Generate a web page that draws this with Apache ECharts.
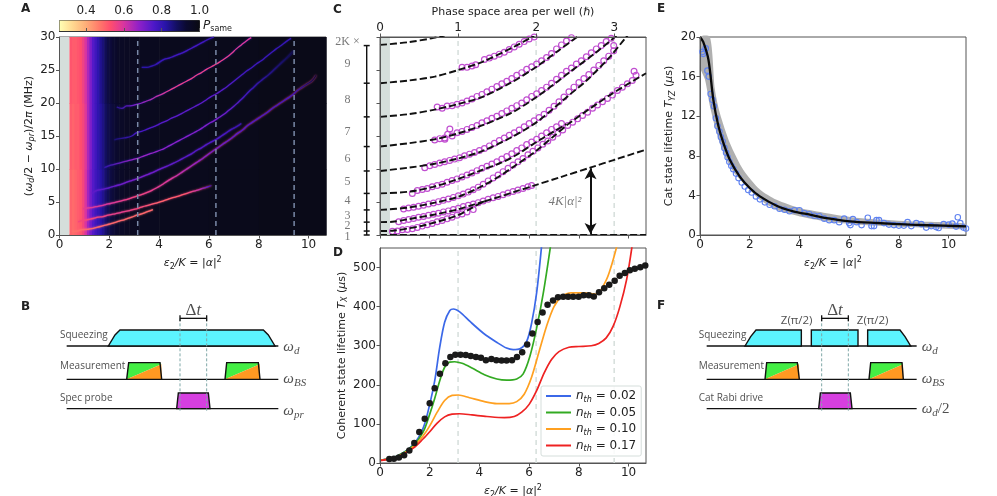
<!DOCTYPE html>
<html><head><meta charset="utf-8">
<style>html,body{margin:0;padding:0;background:#fff}#c{width:997px;height:496px}</style>
<script src="https://cdn.jsdelivr.net/npm/echarts@6/dist/echarts.min.js"></script>
</head><body><div id="c"></div>
<script>
// ---------- Data ----------
const piLines = [3.14, 6.28, 9.42];
const epsTicks = [0, 2, 4, 6, 8, 10];
const areaTicks = [0, 1, 2, 3];
const colorTicks = [0.4, 0.6, 0.8, 1.0];
const txTicks = [0, 100, 200, 300, 400, 500];
const cmapStops = [[.26,'#ffffb4'],[.33,'#ffd890'],[.40,'#fdae78'],[.47,'#ff7a6a'],[.53,'#ff4d6e'],[.60,'#d835a0'],[.68,'#8f20c8'],[.76,'#4c18c8'],[.82,'#2814a8'],[.88,'#130f60'],[.93,'#0b0a30'],[1.0,'#0a0a12']];

const heatEdges = [.4,.5,.6,.7,.8,.9,1.0,1.1,1.2,1.3,1.4,1.5,1.6,1.7,1.8,1.9,2.0,2.1,2.2,2.3,2.4,2.6,2.8,3.2,4,6,8,10.7];
const heatLow  = [.50,.49,.50,.51,.52,.55,.60,.66,.71,.75,.78,.80,.82,.84,.87,.89,.91,.92,.93,.94,.95,.96,.965,.97,.975,.98,.985];
const heatMid  = [.51,.50,.51,.51,.53,.55,.59,.65,.70,.75,.78,.81,.83,.85,.88,.90,.91,.92,.93,.94,.95,.96,.965,.97,.975,.98,.985];
const heatHigh = [.52,.51,.51,.52,.53,.56,.60,.65,.70,.75,.78,.81,.84,.86,.89,.91,.92,.93,.94,.95,.955,.96,.965,.97,.975,.98,.985];
const heatBands = [[0,10],[10,20],[20,30]];

const level0 = [[0,0],[10.7,0]];
const level1 = [[0,.6],[.5,.65],[1.14,1.0],[1.7,1.4],[2.2,1.9],[2.7,2.45],[3.15,3.03],[3.7,4.1],[4.1,4.95],[4.6,5.55],[5.43,6.56],[6.16,7.44],[7.3,8.82],[8.45,10.2],[9.5,11.48],[10.7,12.93]];
const level2 = [[0,1.95],[.5,2.0],[1.14,2.4],[2.2,3.1],[3.15,3.9],[3.8,4.65],[4.3,5.2]];
const level3 = [[0,3.8],[1.14,4.15],[2.2,4.9],[3.15,5.8],[4.1,7.4],[4.8,8.9],[5.43,10.5],[6.3,12.8],[7,15.0],[7.64,17.0],[9.25,21.2],[10.7,24.5]];
const level4 = [[0,6.3],[1.14,6.55],[2.14,7.3],[3.15,8.5],[4.1,9.85],[4.9,11.0],[5.43,12.0],[6.3,14.1],[7,15.7],[7.5,16.8]];
const level5 = [[0,9.7],[1.14,10.2],[2.2,10.8],[3.15,11.6],[4.1,12.7],[5.23,14.7],[6.3,17.1],[7.64,21.3],[8.31,23.4],[9.25,27],[9.86,29.8],[10,30.4]];
const level6 = [[0,13.4],[1.14,13.9],[2.2,14.5],[3.15,15.4],[4.1,16.6],[5.23,18.4],[6.3,20.9],[7.64,24.7],[8.6,27.4],[9.45,30],[9.6,30.5]];
const level7 = [[0,17.9],[1.14,18.3],[2.2,19],[3.15,19.85],[4.1,20.9],[5.23,23],[6.3,25.5],[7.2,28],[8,30.2]];
const level8 = [[0,23],[1.14,23.4],[2.2,24],[3.15,25],[4.1,26.2],[5.43,28.6],[6.2,30.2]];
const level9 = [[0,28.8],[1.13,29.2],[2.08,29.8],[2.6,30.2]];
const rulerTicks = [0,.6,1.95,3.8,6.3,9.7,13.4,17.9,23,28.7];
const rulerLabels = [['1',-.25],['2',1.36],['3',2.85],['4',5.1],['5',8.05],['6',11.5],['7',15.6],['8',20.5],['9',26]];

const peaks1 = [[.5,.55],[.7,.6],[.9,.8],[1.1,.85],[1.3,.95],[1.5,1.15],[1.7,1.35],[1.9,1.55],[2.1,1.75],[2.3,2.0],[2.5,2.2],[2.7,2.45],[2.9,2.7],[3.1,3.0],[3.3,3.2],[3.5,3.5],[3.75,3.85]];
const peaks2 = [[.75,2.0],[.95,2.2],[1.15,2.35],[1.35,2.5],[1.55,2.7],[1.75,2.8],[1.95,3.0],[2.15,3.15],[2.35,3.3],[2.55,3.5],[2.75,3.65],[2.95,3.85],[3.15,4.05],[3.35,4.3],[3.55,4.5],[3.75,4.7],[3.95,4.9],[4.15,5.15],[4.35,5.4],[4.55,5.65],[4.75,5.85],[4.95,6.1],[5.15,6.35],[5.35,6.6],[5.55,6.8],[5.75,7.05],[5.95,7.3],[6.1,7.5]];
const peaks3 = [[.95,3.95],[1.15,4.1],[1.35,4.2],[1.55,4.35],[1.75,4.5],[1.95,4.7],[2.15,4.85],[2.35,5.05],[2.55,5.25],[2.75,5.45],[2.95,5.7],[3.15,5.95],[3.35,6.2],[3.55,6.5],[3.75,6.85],[3.95,7.25],[4.15,7.7],[4.35,8.2],[4.55,8.65],[4.75,9.1],[4.95,9.6],[5.15,10.1],[5.35,10.6],[5.55,11.1],[5.75,11.6],[5.95,12.15],[6.15,12.7],[6.35,13.2],[6.55,13.75],[6.75,14.25],[6.95,14.8],[7.15,15.4],[7.35,15.9],[7.55,16.6],[7.75,17.1],[7.95,17.6],[8.15,18.1],[8.35,18.6],[8.55,19.2],[8.75,19.7],[8.95,20.2],[9.15,20.7],[9.35,21.2],[9.55,21.9],[9.75,22.4],[9.95,22.9],[10.15,23.4],[10.3,24.2]];
const peaks3Extra = [[10.22,24.8]];
const peaks4 = [[1.3,6.3],[1.5,6.75],[1.7,6.9],[1.9,7.05],[2.1,7.3],[2.3,7.5],[2.5,7.7],[2.7,8.0],[2.9,8.25],[3.1,8.5],[3.3,8.8],[3.5,9.1],[3.7,9.4],[3.9,9.75],[4.1,10.1],[4.3,10.4],[4.5,10.75],[4.7,11.1],[4.9,11.5],[5.1,11.9],[5.3,12.3],[5.5,12.8],[5.7,13.2],[5.9,13.7],[6.1,14.1],[6.3,14.5],[6.5,15],[6.7,15.5],[6.9,16],[7.1,16.4],[7.3,16.9]];
const peaks5 = [[1.8,10.2],[2.0,10.5],[2.2,10.7],[2.4,10.9],[2.6,11.1],[2.8,11.3],[3.0,11.5],[3.2,11.7],[3.4,12],[3.6,12.25],[3.8,12.5],[4.0,12.8],[4.2,13.1],[4.4,13.5],[4.6,13.9],[4.8,14.3],[5.0,14.7],[5.2,15.1],[5.4,15.5],[5.6,15.9],[5.8,16.4],[6.0,16.9],[6.2,17.3],[6.4,17.8],[6.6,18.3],[6.8,18.9],[7.0,19.5],[7.2,20.2],[7.4,20.9],[7.6,21.7],[7.8,22.4],[8.0,23.1],[8.2,23.7],[8.4,24.3],[8.6,25],[8.8,25.7],[9.0,26.4],[9.2,27.1],[9.4,27.9]];
const peaks5Extra = [[9.4,28.7]];
const peaks6 = [[2.2,14.4],[2.4,14.6],[2.6,14.7],[2.9,15.0],[3.1,15.5],[3.3,15.7],[3.5,16.0],[3.7,16.3],[3.9,16.6],[4.1,17],[4.3,17.3],[4.5,17.7],[4.7,18],[4.9,18.4],[5.1,18.8],[5.3,19.2],[5.5,19.6],[5.7,20],[5.9,20.5],[6.1,21],[6.3,21.4],[6.5,21.9],[6.7,22.4],[6.9,23],[7.1,23.6],[7.3,24.2],[7.5,24.8],[7.7,25.3],[7.9,25.9],[8.1,26.4],[8.3,27],[8.5,27.6],[8.7,28.2],[8.9,28.7],[9.1,29.3],[9.3,29.8]];
const peaks6Extra = [[2.61,14.5],[2.72,15.25],[2.81,16.05]];
const peaks7 = [[2.3,19.4],[2.5,19.2],[2.7,19.55],[2.9,19.6],[3.1,19.8],[3.3,20],[3.5,20.3],[3.7,20.6],[3.9,21],[4.1,21.3],[4.3,21.7],[4.5,22.1],[4.7,22.5],[4.9,22.9],[5.1,23.3],[5.3,23.7],[5.5,24.2],[5.7,24.6],[5.9,25.1],[6.1,25.5],[6.3,25.9],[6.5,26.4],[6.7,26.9],[6.9,27.5],[7.1,28.2],[7.3,28.8],[7.5,29.4],[7.7,29.9]];
const peaks8 = [[3.3,25.4],[3.5,25.4],[3.7,25.6],[3.85,25.8],[4.2,26.6],[4.4,26.8],[4.6,27.1],[4.8,27.4],[5.0,27.7],[5.2,28.1],[5.4,28.5],[5.6,28.9],[5.8,29.3],[6.0,29.7],[6.2,30]];

const ridgeP1 = [[.5,.48],[1.5,.5],[2.5,.5],[3.75,.5]];
const ridgeP2 = [[.75,.55],[1.5,.55],[2.5,.58],[3.15,.55],[4,.5],[5,.52],[5.5,.62],[5.9,.76],[6.1,.86]];
const ridgeP3 = [[.95,.58],[2,.6],[3.15,.55],[4.5,.6],[5.5,.68],[6.3,.72],[7.5,.76],[9.3,.78],[10.3,.95]];
const ridgeP4 = [[1.3,.74],[2,.74],[3.15,.7],[4.5,.74],[6.3,.76],[7.3,.8]];
const ridgeP5 = [[1.8,.82],[3.15,.66],[4.5,.68],[6.3,.7],[7.5,.78],[9,.88],[9.4,.92]];
const ridgeP6 = [[2.2,.87],[3.15,.77],[4.5,.74],[6.3,.74],[7.5,.78],[9.3,.8]];
const ridgeP7 = [[2.3,.84],[3.15,.7],[4.5,.57],[6.3,.56],[7.7,.6]];
const ridgeP8 = [[3.3,.82],[4.5,.78],[5.5,.77],[6.2,.8]];

const dotsTx = [[.375,10],[.56,11],[.76,14],[.97,20],[1.18,32],[1.38,51],[1.58,79],[1.8,113],[2.0,153],[2.2,191],[2.41,228],[2.63,255],[2.83,271],[3.03,277],[3.24,277],[3.45,276],[3.65,274],[3.86,271],[4.06,269],[4.26,263],[4.48,266],[4.68,263],[4.89,262],[5.09,262],[5.31,263],[5.51,271],[5.72,283],[5.92,303],[6.13,331],[6.34,361],[6.54,385],[6.74,405],[6.96,416],[7.16,424],[7.37,425],[7.57,425],[7.77,425],[7.99,425],[8.19,429],[8.4,429],[8.6,426],[8.81,437],[9.02,447],[9.22,456],[9.44,466],[9.64,479],[9.85,486],[10.05,493],[10.25,497],[10.47,501],[10.67,505]];
const nth02 = [[0,7],[.67,17],[1.34,47],[1.74,90],[2.0,150],[2.2,210],[2.4,295],[2.6,360],[2.81,390],[2.95,394],[3.22,386],[3.62,362],[4.16,332],[4.69,309],[5.09,294],[5.36,290],[5.63,292],[5.9,311],[6.1,358],[6.3,435],[6.5,555]];
const nth05 = [[0,7],[.67,17],[1.34,45],[1.74,80],[2.0,125],[2.2,165],[2.4,210],[2.6,245],[2.8,258],[3.0,259],[3.3,255],[3.7,243],[4.2,226],[4.7,215],[5.1,212],[5.5,215],[5.76,228],[6.03,273],[6.3,345],[6.57,435],[6.86,555]];
const nth10 = [[0,7],[.67,16],[1.34,42],[1.74,70],[2.0,95],[2.3,130],[2.6,160],[2.9,173],[3.15,174],[3.6,167],[4.2,157],[4.7,152],[5.2,152],[5.5,157],[5.8,176],[6.1,220],[6.4,285],[6.7,350],[7,400],[7.3,425],[7.7,435],[8.2,435],[8.7,432],[9.1,468],[9.3,503],[9.53,555]];
const nth17 = [[0,6],[.67,15],[1.34,38],[1.74,62],[2.0,80],[2.3,102],[2.6,118],[2.9,125],[3.2,126],[3.7,123],[4.3,119],[5,116],[5.4,119],[5.7,130],[6,150],[6.3,185],[6.6,230],[6.9,265],[7.2,285],[7.6,296],[8,298],[8.5,300],[8.8,306],[9.1,320],[9.38,350],[9.65,400],[9.92,469],[10.14,555]];

const tyzFit = [[0,20],[.13,19.5],[.34,17.7],[.54,13.6],[.74,11],[.94,9.3],[1.2,7.6],[1.6,5.9],[2.0,4.75],[2.41,3.9],[3.08,2.96],[3.75,2.39],[4.42,2.05],[5.09,1.71],[6.03,1.38],[7.1,1.21],[8.45,1.04],[9.79,.94],[10.7,.87]];
const tyzUpper = [[.4,20],[.6,14.7],[.8,12.3],[1.2,9.3],[1.74,6.6],[2.41,4.6],[3.08,3.56],[4.02,2.72],[5.09,2.2],[6.4,1.71],[8.45,1.38],[10.7,1.14]];
const tyzLower = [[0,20],[0,17],[.2,15.7],[.4,13],[.67,10.3],[.94,8.3],[1.34,6.4],[1.88,4.9],[2.41,3.56],[3.08,2.55],[4.02,1.88],[5.09,1.38],[6.4,1.04],[8.45,.8],[10.7,.6]];
const tyzPoints = [[.1,18.5],[.13,18.3],[.23,18.85],[.3,16.6],[.35,16],[.43,14.25],[.5,13.65],[.56,13],[.64,11.8],[.7,11],[.78,10.45],[.84,9.9],[.91,9.45],[.98,8.8],[1.05,8.3],[1.11,7.85],[1.18,7.4],[1.26,7],[1.34,6.65],[1.45,6.2],[1.55,5.75],[1.68,5.3],[1.8,4.9],[1.94,4.55],[2.08,4.3],[2.25,3.9],[2.41,3.6],[2.61,3.3],[2.8,3.05],[3.0,2.9],[3.2,2.65],[3.4,2.55],[3.6,2.4],[3.8,2.5],[4,2.5],[4.2,2.2],[4.4,2.1],[4.6,1.95],[4.8,1.9],[5,1.65],[5.2,1.5],[5.4,1.5],[5.6,1.3],[5.8,1.65],[6,1.2],[6.05,1],[6.15,1.6],[6.3,1.3],[6.5,1],[6.75,1.75],[6.9,.9],[7,.9],[7.1,1.5],[7.2,1.5],[7.4,1.2],[7.6,1.05],[7.8,1],[8,.95],[8.2,.95],[8.35,1.3],[8.5,.9],[8.7,1.2],[8.9,1.1],[9.1,.75],[9.3,.9],[9.5,.8],[9.6,.7],[9.8,1.1],[10,1.05],[10.15,1.15],[10.3,.85],[10.37,1.8],[10.47,1.2],[10.6,.75],[10.7,.65]];

// Pulse-sequence schematics (B, F), in schematic units
const CYAN='#5cf4ff', GREEN='#44ee44', ORANGE='#ff9922', MAG='#d63fe0';
const seqBBaselines = [[200,835,168],[200,835,268],[200,835,356]];
const seqBPulses = [[[325,168],[345,135],[360,120],[790,120],[805,135],[825,168]]];
const seqBMeas = [[380,386,480,485],[675,680,775,780]];
const seqBProbe = [[530,356],[535,309],[625,309],[630,356]];
const seqBGuides = [540,620];
const seqBText = [['Squeezing',180,135],['Measurement',180,228],['Spec probe',180,325]];
const seqBFreq = [['{w|ω}{ws|d}',850,172],['{w|ω}{ws|BS}',850,268],['{w|ω}{ws|pr}',850,362]];
const seqFBaselines = [[140,770,168],[140,770,268],[140,770,356]];
const seqFPulses = [[[255,168],[272,140],[288,120],[424,120],[424,168]],[[454,168],[454,120],[594,120],[594,168]],[[623,168],[623,120],[720,120],[735,140],[752,168]]];
const seqFMeas = [[315,320,412,418],[627,632,726,730]];
const seqFProbe = [[476,356],[481,309],[571,309],[576,356]];
const seqFGuides = [485,565];
const seqFText = [['Squeezing',116,135],['Measurement',116,228],['Cat Rabi drive',116,325]];
const seqFFreq = [['{w|ω}{ws|d}',785,172],['{w|ω}{ws|BS}',785,268],['{w|ω}{ws|d}{g|/2}',785,358]];

// ---------- Helpers ----------
const FF='DejaVu Sans', SERIF='Liberation Serif', TXT='#222', SPINE='#555', PALE='#d5dedb';
function hex(c){return [1,3,5].map(i=>parseInt(c.substr(i,2),16));}
function cmap(p){
  for(let i=1;i<cmapStops.length;i++){
    if(p<=cmapStops[i][0]){
      const a=cmapStops[i-1],b=cmapStops[i],t=Math.max(0,(p-a[0])/(b[0]-a[0]));
      const A=hex(a[1]),B=hex(b[1]);
      return 'rgb('+A.map((v,k)=>Math.round(v+(B[k]-v)*t)).join(',')+')';
    }
  }
  return cmapStops[cmapStops.length-1][1];
}
const mt={fontFamily:FF,fontSize:11,fontWeight:'normal',lineHeight:15,color:TXT};
const subt={fontFamily:FF,fontSize:8,fontWeight:'normal',color:TXT,verticalAlign:'bottom'};
const rich={
  i:{...mt,fontStyle:'italic'},n:{...mt},
  s:{...subt},
  is:{...subt,fontStyle:'italic'},
  u:{fontFamily:FF,fontSize:8,color:TXT,verticalAlign:'top'}
};
const epsName='{i|ε}{s|2}{i|/K} = |{i|α}|{u|2}';
const tickFont={fontFamily:FF,fontSize:12,color:TXT};
const nameFont={fontFamily:FF,fontSize:11,color:TXT};
function vAxisCommon(extra){return Object.assign({type:'value',z:6,splitLine:{show:false},
  axisLine:{show:true,onZero:false,lineStyle:{color:SPINE,width:1}},
  axisTick:{show:true,length:3.5,lineStyle:{color:SPINE}},
  axisLabel:Object.assign({margin:4},tickFont)},extra);}
function epsAxis(grid,showLabel,name){
  return vAxisCommon({gridIndex:grid,min:0,max:10.7,position:'bottom',
    axisTick:{show:true,length:3.5,customValues:epsTicks,lineStyle:{color:SPINE}},
    axisLabel:Object.assign({show:showLabel,margin:4,customValues:epsTicks},tickFont),
    name:name||'',nameLocation:'middle',nameGap:21,nameTextStyle:Object.assign({rich},nameFont)});
}
function yName(text,gap){return {name:text,nameLocation:'middle',nameRotate:90,nameGap:gap,nameTextStyle:Object.assign({rich},nameFont)};}
function vLines(x,y,top,color,width,dash,z){
  return piLines.map(v=>({type:'line',xAxisIndex:x,yAxisIndex:y,data:[[v,0],[v,top]],
    symbol:'none',silent:true,z:z,lineStyle:{color,width,type:dash}}));
}
function greyPatch(x,y){return {type:'line',xAxisIndex:x,yAxisIndex:y,data:[],silent:true,z:1,
  markArea:{silent:true,itemStyle:{color:PALE,opacity:1},data:[[{xAxis:0},{xAxis:.4}]]}};}
function annotate(x,y,items,pos,labelExtra,z){
  return {type:'scatter',xAxisIndex:x,yAxisIndex:y,symbolSize:0,silent:true,z:z||9,clip:false,
    data:items.map(t=>({value:[t[1],t[2]],name:t[0]})),
    label:Object.assign({show:true,position:pos,distance:0,formatter:p=>p.name},labelExtra)};
}
function rings(data,color,size){return {type:'scatter',xAxisIndex:2,yAxisIndex:2,data,symbol:'circle',symbolSize:size,silent:true,z:3,
  itemStyle:{color:'rgba(0,0,0,0)',borderColor:color,borderWidth:1.2,opacity:1}};}
function dashed(data){return {type:'line',xAxisIndex:2,yAxisIndex:2,data,smooth:.3,symbol:'none',silent:true,z:4,
  lineStyle:{color:'#111',width:1.9,type:[7,3]}};}
function ridge(peaks,pts){
  const a=peaks[0][0],b=peaks[peaks.length-1][0];
  const stops=pts.map(p=>({offset:Math.min(1,Math.max(0,(p[0]-a)/(b-a))),color:cmap(p[1])}));
  return {type:'line',xAxisIndex:1,yAxisIndex:1,data:peaks,smooth:.5,symbol:'none',silent:true,z:3,
    lineStyle:{width:1.3,shadowBlur:2,shadowColor:cmap(pts[0][1]),color:new echarts.graphic.LinearGradient(0,0,1,0,stops)}};
}
function polySeries(x,y,shapes,z){
  return {type:'custom',xAxisIndex:x,yAxisIndex:y,silent:true,z,clip:false,data:shapes.map((_,i)=>[i]),
    renderItem(params,api){
      const s=shapes[params.dataIndex];
      return {type:'polygon',shape:{points:s.pts.map(p=>api.coord(p))},
        style:{fill:s.fill||'none',stroke:s.stroke||null,lineWidth:s.stroke?1.4:0}};
    }};
}
function lineSeg(x,y,pts,extra,z){return {type:'line',xAxisIndex:x,yAxisIndex:y,data:pts,symbol:'none',silent:true,z:z||2,clip:false,
  lineStyle:Object.assign({color:'#111',width:1.3},extra)};}
function schematic(x,y,bases,pulses,meas,probe,guides,texts,freqs,extraText){
  const shapes=[];
  pulses.forEach(p=>shapes.push({pts:p,fill:CYAN,stroke:'#111'}));
  meas.forEach(m=>{
    shapes.push({pts:[[m[0],268],[m[1],218],[m[2],218],[m[3]-1,223]],fill:GREEN});
    shapes.push({pts:[[m[0],268],[m[3]-1,223],[m[3],268]],fill:ORANGE});
    shapes.push({pts:[[m[0],268],[m[1],218],[m[2],218],[m[3],268]],stroke:'#111'});
  });
  shapes.push({pts:probe,fill:MAG,stroke:'#111'});
  const out=[];
  bases.forEach(b=>out.push(lineSeg(x,y,[[b[0],b[2]],[b[1],b[2]]],{},2)));
  out.push(polySeries(x,y,shapes,3));
  guides.forEach(g=>out.push(lineSeg(x,y,[[g,85],[g,362]],{color:'#7fa8a8',width:1,type:[3,2]},4)));
  const g0=guides[0],g1=guides[1];
  out.push(lineSeg(x,y,[[g0,85],[g1,85]],{},5));
  out.push(lineSeg(x,y,[[g0,76],[g0,94]],{},5));
  out.push(lineSeg(x,y,[[g1,76],[g1,94]],{},5));
  out.push(annotate(x,y,[['{d|Δ}{w|t}',(g0+g1)/2,63]],'inside',{rich:{d:{fontFamily:SERIF,fontSize:17,color:TXT},w:{fontFamily:SERIF,fontStyle:'italic',fontSize:17,color:TXT}}}));
  out.push(annotate(x,y,texts,'right',{fontFamily:'Open Sans',fontSize:10,color:TXT}));
  out.push(annotate(x,y,freqs,'right',{rich:{
    w:{fontFamily:SERIF,fontStyle:'italic',fontSize:15,lineHeight:19,color:TXT},
    ws:{fontFamily:SERIF,fontStyle:'italic',fontSize:11,verticalAlign:'bottom',color:TXT},
    g:{fontFamily:SERIF,fontSize:15,lineHeight:19,color:TXT}}}));
  if(extraText) out.push(annotate(x,y,extraText,'inside',{fontFamily:'Open Sans',fontSize:11.5,color:TXT}));
  return out;
}

// ---------- Heat cells for panel A ----------
const heatCells=[];
[heatLow,heatMid,heatHigh].forEach((row,b)=>{
  row.forEach((p,i)=>heatCells.push([heatEdges[i],heatEdges[i+1],heatBands[b][0],heatBands[b][1],p]));
});

const chart=echarts.init(document.getElementById('c'),null,{renderer:'canvas'});
const letter=(t,l,tp)=>({text:t,left:l,top:tp,textStyle:{fontFamily:FF,fontWeight:'bold',fontSize:12,color:'#222'},padding:0});

const series=[];
// colour bar
series.push({type:'custom',xAxisIndex:0,yAxisIndex:0,silent:true,z:2,data:[[0]],
  renderItem(params,api){
    const a=api.coord([.26,1]),b=api.coord([1,0]);
    return {type:'rect',shape:{x:a[0],y:a[1],width:b[0]-a[0],height:b[1]-a[1]},
      style:{fill:new echarts.graphic.LinearGradient(0,0,1,0,cmapStops.map(s=>({offset:(s[0]-.26)/.74,color:s[1]})))}};
  }});
// Panel A
series.push(greyPatch(1,1));
series.push({type:'custom',xAxisIndex:1,yAxisIndex:1,silent:true,z:2,data:heatCells,encode:{x:[0,1],y:[2,3]},
  renderItem(params,api){
    const a=api.coord([api.value(0),api.value(3)]),b=api.coord([api.value(1),api.value(2)]);
    return {type:'rect',shape:{x:a[0],y:a[1],width:b[0]-a[0]+.6,height:b[1]-a[1]+.6},style:{fill:cmap(api.value(4))}};
  }});
[[peaks1,ridgeP1],[peaks2,ridgeP2],[peaks3,ridgeP3],[peaks4,ridgeP4],[peaks5,ridgeP5],[peaks6,ridgeP6],[peaks7,ridgeP7],[peaks8,ridgeP8]]
  .forEach(r=>series.push(ridge(r[0],r[1])));
series.push(...vLines(1,1,30,'#7b8aa8',1.5,[5,4],5));
// Panel C
series.push(greyPatch(2,2));
series.push(...vLines(2,2,30,PALE,1.5,[5,4],2));
[peaks1,peaks2,peaks3.concat(peaks3Extra),peaks4,peaks5.concat(peaks5Extra),peaks6.concat(peaks6Extra),peaks7,peaks8].forEach(p=>series.push(rings(p,'#c04ed0',5.8)));
[level0,level1,level2,level3,level4,level5,level6,level7,level8,level9].forEach(l=>series.push(dashed(l)));
series.push({type:'line',xAxisIndex:2,yAxisIndex:2,data:[],silent:true,z:6,
  markLine:{silent:true,symbol:['arrow','arrow'],symbolSize:[9,11],label:{show:false},lineStyle:{color:'#111',width:2,type:'solid'},
    data:[[{coord:[8.47,0.15]},{coord:[8.47,10.1]}]],animation:false}});
series.push(annotate(2,2,[['4K|α|²',7.44,5.05]],'inside',{fontFamily:SERIF,fontStyle:'italic',fontSize:13,color:'#555'}));
// ruler
series.push(polySeries(2,2,[{pts:[[-.535,0],[-.535,rulerTicks[rulerTicks.length-1]]],stroke:'#111'}],3));
series.push({type:'scatter',xAxisIndex:2,yAxisIndex:2,silent:true,z:3,clip:false,symbol:'rect',symbolSize:[6,1.5],
  itemStyle:{color:'#111',opacity:1},data:rulerTicks.map(v=>[-.535,v])});
series.push(annotate(2,2,rulerLabels.map(r=>[r[0],-1.31,r[1]]).concat([['2K ×',-1.31,29.2]]),'inside',{fontFamily:SERIF,fontSize:12,color:'#555'}));
// Panel D
series.push(...vLines(3,3,550,PALE,1.5,[5,4],2));
[['nth = 0.02',nth02,'#3b68e8'],['nth = 0.05',nth05,'#33aa22'],['nth = 0.10',nth10,'#ffa020'],['nth = 0.17',nth17,'#ee2222']].forEach(c=>{
  series.push({name:c[0],type:'line',xAxisIndex:3,yAxisIndex:3,data:c[1],smooth:.3,symbol:'none',silent:true,z:3,itemStyle:{color:c[2]},lineStyle:{color:c[2],width:1.7}});
});
series.push({type:'scatter',xAxisIndex:3,yAxisIndex:3,data:dotsTx,symbol:'circle',symbolSize:6.5,silent:true,z:4,clip:false,itemStyle:{color:'#1a1a1a',opacity:1}});
// Panel E
series.push({type:'custom',xAxisIndex:4,yAxisIndex:4,silent:true,z:2,data:[[0]],
  renderItem(params,api){
    const pts=tyzUpper.concat(tyzLower.slice().reverse());
    return {type:'polygon',shape:{points:pts.map(p=>api.coord(p)),smooth:.25},style:{fill:'#b0b0b0'}};
  }});
series.push({type:'scatter',xAxisIndex:4,yAxisIndex:4,data:tyzPoints,symbol:'circle',symbolSize:5.5,silent:true,z:3,clip:false,
  itemStyle:{color:'rgba(0,0,0,0)',borderColor:'#5f82f0',borderWidth:1.1,opacity:1}});
series.push({type:'line',xAxisIndex:4,yAxisIndex:4,data:tyzFit,smooth:.3,symbol:'none',silent:true,z:4,lineStyle:{color:'#0a0a0a',width:2.3}});
// Panels B, F
series.push(...schematic(5,5,seqBBaselines,seqBPulses,seqBMeas,seqBProbe,seqBGuides,seqBText,seqBFreq));
series.push(...schematic(6,6,seqFBaselines,seqFPulses,seqFMeas,seqFProbe,seqFGuides,seqFText,seqFFreq,[['Z(π/2)',410,92],['Z(π/2)',638,92]]));

const free={outerBoundsMode:'none'};
const panel={show:true,backgroundColor:'#fff',borderColor:SPINE,borderWidth:1,...free};
chart.setOption({
  animation:false,backgroundColor:'#fff',
  textStyle:{fontFamily:FF},
  title:[letter('A',21,3),letter('B',21,301),letter('C',333,4),letter('D',333,247),letter('E',657,3),letter('F',657,300),
    {text:'{i|P}{s|same}',left:203,top:18,padding:0,textStyle:{rich:{i:{...mt,fontStyle:'italic',fontSize:12},s:{...subt}}}}],
  grid:[
    {left:59.5,top:20.5,width:140,height:11,show:true,borderColor:'#333',borderWidth:1,...free},
    Object.assign({left:59.5,top:37,width:266.5,height:198},panel),
    Object.assign({left:380,top:37,width:266,height:198},panel),
    Object.assign({left:380,top:248,width:266,height:215},panel),
    Object.assign({left:700,top:37,width:266,height:198},panel),
    {left:0,top:290,width:330,height:140,...free},
    {left:660,top:290,width:337,height:140,...free}
  ],
  xAxis:[
    vAxisCommon({gridIndex:0,min:.26,max:1,position:'top',axisLine:{show:true,lineStyle:{color:'#333'}},
      axisTick:{show:true,length:3.5,customValues:colorTicks,lineStyle:{color:SPINE}},
      axisLabel:Object.assign({margin:4,customValues:colorTicks,formatter:v=>v.toFixed(1)},tickFont)}),
    epsAxis(1,true,epsName),
    epsAxis(2,false),
    epsAxis(3,true,epsName),
    epsAxis(4,true,epsName),
    {gridIndex:5,type:'value',min:0,max:990,show:false},
    {gridIndex:6,type:'value',min:0,max:1011,show:false},
    vAxisCommon({gridIndex:2,min:0,max:3.406,position:'top',
      axisTick:{show:true,length:3.5,customValues:areaTicks,lineStyle:{color:SPINE}},
      axisLabel:Object.assign({margin:3,customValues:areaTicks},tickFont),
      name:'Phase space area per well (ℏ)',nameLocation:'middle',nameGap:19,nameTextStyle:nameFont})
  ],
  yAxis:[
    {gridIndex:0,type:'value',min:0,max:1,show:false},
    vAxisCommon(Object.assign({gridIndex:1,min:0,max:30,interval:5},yName('({i|ω}{is|d}/2 − {i|ω}{is|pr})/2{i|π} (MHz)',23))),
    vAxisCommon({gridIndex:2,min:0,max:30,interval:5,axisLabel:{show:false}}),
    vAxisCommon(Object.assign({gridIndex:3,min:0,max:550,
      axisTick:{show:true,length:3.5,customValues:txTicks,lineStyle:{color:SPINE}},
      axisLabel:Object.assign({margin:4,customValues:txTicks},tickFont)},
      yName('Coherent state lifetime {i|T}{is|X} ({i|μ}s)',30))),
    vAxisCommon(Object.assign({gridIndex:4,min:0,max:20,interval:4},yName('Cat state lifetime {i|T}{is|YZ} ({i|μ}s)',18))),
    {gridIndex:5,type:'value',min:0,max:420,inverse:true,show:false},
    {gridIndex:6,type:'value',min:0,max:420,inverse:true,show:false}
  ],
  legend:{data:['nth = 0.02','nth = 0.05','nth = 0.10','nth = 0.17'],orient:'vertical',left:541,top:386,itemWidth:25,itemHeight:2,itemGap:3,
    padding:[4,5,3,5],backgroundColor:'rgba(255,255,255,.85)',borderColor:PALE,borderWidth:1,borderRadius:2,z:10,icon:'rect',
    formatter:n=>'{i|n}{is|th} = '+n.slice(6),
    textStyle:Object.assign({},tickFont,{rich:{i:{...mt,fontStyle:'italic',fontSize:12},is:{...subt,fontStyle:'italic'}}})},
  series
});
</script></body></html>
